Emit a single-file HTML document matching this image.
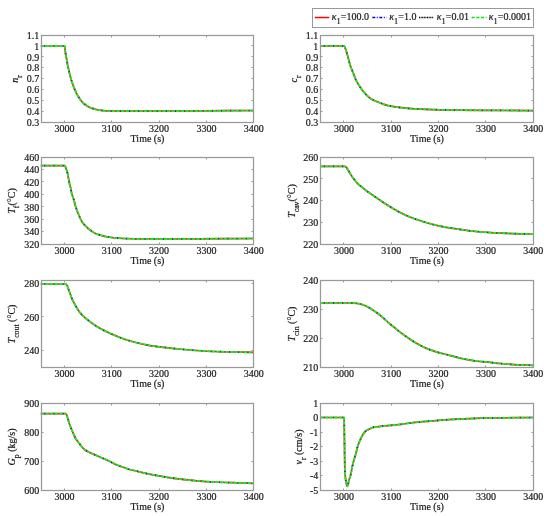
<!DOCTYPE html>
<html><head><meta charset="utf-8"><title>Simulation results</title>
<style>html,body{margin:0;padding:0;background:#fff;width:550px;height:516px;overflow:hidden}svg{display:block}text{stroke:#1a1a1a;stroke-width:0.2px}</style>
</head><body>
<svg width="550" height="516" viewBox="0 0 550 516" font-family='"Liberation Serif", "Times New Roman", serif' font-size="10">
<rect width="550" height="516" fill="#fff"/>
<g fill="none"><path d="M40.80 46.00C48.77 46.00 56.73 46.00 64.70 46.00C64.77 46.00 64.83 47.22 64.90 47.80C65.13 49.83 65.37 52.07 65.60 53.60C65.97 56.00 66.33 57.36 66.70 59.40C67.03 61.26 67.37 63.61 67.70 65.30C68.13 67.49 68.57 69.10 69.00 71.00C69.37 72.60 69.73 74.38 70.10 75.80C70.67 77.99 71.23 79.86 71.80 81.60C72.50 83.74 73.20 85.65 73.90 87.40C74.77 89.57 75.63 91.63 76.50 93.30C77.67 95.55 78.83 97.37 80.00 99.10C80.53 99.89 81.07 100.70 81.60 101.30C82.83 102.70 84.07 103.80 85.30 104.70C86.50 105.58 87.70 106.31 88.90 106.90C90.10 107.49 91.30 107.98 92.50 108.40C93.73 108.83 94.97 109.21 96.20 109.50C97.40 109.78 98.60 110.04 99.80 110.20C102.23 110.53 104.67 110.76 107.10 110.90C109.53 111.04 111.97 111.20 114.40 111.20C121.27 111.20 128.13 111.20 135.00 111.20C156.67 111.20 178.33 111.02 200.00 110.90C217.93 110.80 235.87 110.66 253.80 110.50" stroke="#e81818" stroke-width="1.7"/><path d="M40.80 46.00C48.77 46.00 56.73 46.00 64.70 46.00C64.77 46.00 64.83 47.22 64.90 47.80C65.13 49.83 65.37 52.07 65.60 53.60C65.97 56.00 66.33 57.36 66.70 59.40C67.03 61.26 67.37 63.61 67.70 65.30C68.13 67.49 68.57 69.10 69.00 71.00C69.37 72.60 69.73 74.38 70.10 75.80C70.67 77.99 71.23 79.86 71.80 81.60C72.50 83.74 73.20 85.65 73.90 87.40C74.77 89.57 75.63 91.63 76.50 93.30C77.67 95.55 78.83 97.37 80.00 99.10C80.53 99.89 81.07 100.70 81.60 101.30C82.83 102.70 84.07 103.80 85.30 104.70C86.50 105.58 87.70 106.31 88.90 106.90C90.10 107.49 91.30 107.98 92.50 108.40C93.73 108.83 94.97 109.21 96.20 109.50C97.40 109.78 98.60 110.04 99.80 110.20C102.23 110.53 104.67 110.76 107.10 110.90C109.53 111.04 111.97 111.20 114.40 111.20C121.27 111.20 128.13 111.20 135.00 111.20C156.67 111.20 178.33 111.02 200.00 110.90C217.93 110.80 235.87 110.66 253.80 110.50" stroke="#1828e8" stroke-width="1.7" stroke-dasharray="1.2 8" stroke-dashoffset="-3.4"/><path d="M40.80 46.00C48.77 46.00 56.73 46.00 64.70 46.00C64.77 46.00 64.83 47.22 64.90 47.80C65.13 49.83 65.37 52.07 65.60 53.60C65.97 56.00 66.33 57.36 66.70 59.40C67.03 61.26 67.37 63.61 67.70 65.30C68.13 67.49 68.57 69.10 69.00 71.00C69.37 72.60 69.73 74.38 70.10 75.80C70.67 77.99 71.23 79.86 71.80 81.60C72.50 83.74 73.20 85.65 73.90 87.40C74.77 89.57 75.63 91.63 76.50 93.30C77.67 95.55 78.83 97.37 80.00 99.10C80.53 99.89 81.07 100.70 81.60 101.30C82.83 102.70 84.07 103.80 85.30 104.70C86.50 105.58 87.70 106.31 88.90 106.90C90.10 107.49 91.30 107.98 92.50 108.40C93.73 108.83 94.97 109.21 96.20 109.50C97.40 109.78 98.60 110.04 99.80 110.20C102.23 110.53 104.67 110.76 107.10 110.90C109.53 111.04 111.97 111.20 114.40 111.20C121.27 111.20 128.13 111.20 135.00 111.20C156.67 111.20 178.33 111.02 200.00 110.90C217.93 110.80 235.87 110.66 253.80 110.50" stroke="#18f018" stroke-width="1.8" stroke-dasharray="3.4 1.2"/></g>
<rect x="41.5" y="35.5" width="212.0" height="87.0" fill="none" stroke="#999999" stroke-width="1.25"/>
<path d="M64.5 122.5v-2M64.5 35.5v2M111.5 122.5v-2M111.5 35.5v2M159.5 122.5v-2M159.5 35.5v2M206.5 122.5v-2M206.5 35.5v2M41.5 111.5h2M253.5 111.5h-2M41.5 100.5h2M253.5 100.5h-2M41.5 89.5h2M253.5 89.5h-2M41.5 78.5h2M253.5 78.5h-2M41.5 67.5h2M253.5 67.5h-2M41.5 56.5h2M253.5 56.5h-2M41.5 45.5h2M253.5 45.5h-2" stroke="#999999" stroke-width="1" fill="none"/>
<g fill="#1a1a1a"><text x="64.5" y="131.8" text-anchor="middle">3000</text><text x="111.8" y="131.8" text-anchor="middle">3100</text><text x="159.1" y="131.8" text-anchor="middle">3200</text><text x="206.5" y="131.8" text-anchor="middle">3300</text><text x="253.8" y="131.8" text-anchor="middle">3400</text><text x="39.3" y="125.8" text-anchor="end">0.3</text><text x="39.3" y="114.9" text-anchor="end">0.4</text><text x="39.3" y="104.1" text-anchor="end">0.5</text><text x="39.3" y="93.2" text-anchor="end">0.6</text><text x="39.3" y="82.3" text-anchor="end">0.7</text><text x="39.3" y="71.4" text-anchor="end">0.8</text><text x="39.3" y="60.5" text-anchor="end">0.9</text><text x="39.3" y="49.7" text-anchor="end">1</text><text x="39.3" y="38.8" text-anchor="end">1.1</text></g>
<text x="147.5" y="141.7" text-anchor="middle" fill="#1a1a1a">Time (s)</text>
<text transform="translate(18.0 79.0) rotate(-90)" text-anchor="middle" fill="#1a1a1a"><tspan font-style="italic">n</tspan><tspan font-size="7.8" dy="4.2">r</tspan></text>
<g fill="none"><path d="M320.30 45.80C328.23 45.80 336.17 45.80 344.10 45.80C344.43 45.80 344.77 47.01 345.10 47.80C345.73 49.30 346.37 51.50 347.00 53.60C347.53 55.37 348.07 57.45 348.60 59.40C349.13 61.35 349.67 63.66 350.20 65.30C350.53 66.33 350.87 67.13 351.20 68.00C351.97 70.01 352.73 71.87 353.50 73.80C354.27 75.73 355.03 77.97 355.80 79.60C356.87 81.87 357.93 83.68 359.00 85.40C360.37 87.60 361.73 89.67 363.10 91.30C365.23 93.85 367.37 96.11 369.50 97.70C371.03 98.85 372.57 99.76 374.10 100.50C375.60 101.22 377.10 101.71 378.60 102.30C380.13 102.91 381.67 103.57 383.20 104.10C384.70 104.62 386.20 105.14 387.70 105.50C389.23 105.87 390.77 106.14 392.30 106.40C395.33 106.91 398.37 107.35 401.40 107.70C404.43 108.05 407.47 108.40 410.50 108.60C418.07 109.09 425.63 109.37 433.20 109.60C440.47 109.82 447.73 110.01 455.00 110.10C468.00 110.26 481.00 110.32 494.00 110.40C507.10 110.48 520.20 110.55 533.30 110.60" stroke="#e81818" stroke-width="1.7"/><path d="M320.30 45.80C328.23 45.80 336.17 45.80 344.10 45.80C344.43 45.80 344.77 47.01 345.10 47.80C345.73 49.30 346.37 51.50 347.00 53.60C347.53 55.37 348.07 57.45 348.60 59.40C349.13 61.35 349.67 63.66 350.20 65.30C350.53 66.33 350.87 67.13 351.20 68.00C351.97 70.01 352.73 71.87 353.50 73.80C354.27 75.73 355.03 77.97 355.80 79.60C356.87 81.87 357.93 83.68 359.00 85.40C360.37 87.60 361.73 89.67 363.10 91.30C365.23 93.85 367.37 96.11 369.50 97.70C371.03 98.85 372.57 99.76 374.10 100.50C375.60 101.22 377.10 101.71 378.60 102.30C380.13 102.91 381.67 103.57 383.20 104.10C384.70 104.62 386.20 105.14 387.70 105.50C389.23 105.87 390.77 106.14 392.30 106.40C395.33 106.91 398.37 107.35 401.40 107.70C404.43 108.05 407.47 108.40 410.50 108.60C418.07 109.09 425.63 109.37 433.20 109.60C440.47 109.82 447.73 110.01 455.00 110.10C468.00 110.26 481.00 110.32 494.00 110.40C507.10 110.48 520.20 110.55 533.30 110.60" stroke="#1828e8" stroke-width="1.7" stroke-dasharray="1.2 8" stroke-dashoffset="-3.4"/><path d="M320.30 45.80C328.23 45.80 336.17 45.80 344.10 45.80C344.43 45.80 344.77 47.01 345.10 47.80C345.73 49.30 346.37 51.50 347.00 53.60C347.53 55.37 348.07 57.45 348.60 59.40C349.13 61.35 349.67 63.66 350.20 65.30C350.53 66.33 350.87 67.13 351.20 68.00C351.97 70.01 352.73 71.87 353.50 73.80C354.27 75.73 355.03 77.97 355.80 79.60C356.87 81.87 357.93 83.68 359.00 85.40C360.37 87.60 361.73 89.67 363.10 91.30C365.23 93.85 367.37 96.11 369.50 97.70C371.03 98.85 372.57 99.76 374.10 100.50C375.60 101.22 377.10 101.71 378.60 102.30C380.13 102.91 381.67 103.57 383.20 104.10C384.70 104.62 386.20 105.14 387.70 105.50C389.23 105.87 390.77 106.14 392.30 106.40C395.33 106.91 398.37 107.35 401.40 107.70C404.43 108.05 407.47 108.40 410.50 108.60C418.07 109.09 425.63 109.37 433.20 109.60C440.47 109.82 447.73 110.01 455.00 110.10C468.00 110.26 481.00 110.32 494.00 110.40C507.10 110.48 520.20 110.55 533.30 110.60" stroke="#18f018" stroke-width="1.8" stroke-dasharray="3.4 1.2"/></g>
<rect x="320.5" y="35.5" width="213.0" height="87.0" fill="none" stroke="#999999" stroke-width="1.25"/>
<path d="M343.5 122.5v-2M343.5 35.5v2M391.5 122.5v-2M391.5 35.5v2M438.5 122.5v-2M438.5 35.5v2M485.5 122.5v-2M485.5 35.5v2M320.5 111.5h2M533.5 111.5h-2M320.5 100.5h2M533.5 100.5h-2M320.5 89.5h2M533.5 89.5h-2M320.5 78.5h2M533.5 78.5h-2M320.5 67.5h2M533.5 67.5h-2M320.5 56.5h2M533.5 56.5h-2M320.5 45.5h2M533.5 45.5h-2" stroke="#999999" stroke-width="1" fill="none"/>
<g fill="#1a1a1a"><text x="344.0" y="131.8" text-anchor="middle">3000</text><text x="391.3" y="131.8" text-anchor="middle">3100</text><text x="438.6" y="131.8" text-anchor="middle">3200</text><text x="486.0" y="131.8" text-anchor="middle">3300</text><text x="533.3" y="131.8" text-anchor="middle">3400</text><text x="318.3" y="125.8" text-anchor="end">0.3</text><text x="318.3" y="114.9" text-anchor="end">0.4</text><text x="318.3" y="104.1" text-anchor="end">0.5</text><text x="318.3" y="93.2" text-anchor="end">0.6</text><text x="318.3" y="82.3" text-anchor="end">0.7</text><text x="318.3" y="71.4" text-anchor="end">0.8</text><text x="318.3" y="60.5" text-anchor="end">0.9</text><text x="318.3" y="49.7" text-anchor="end">1</text><text x="318.3" y="38.8" text-anchor="end">1.1</text></g>
<text x="427.0" y="141.7" text-anchor="middle" fill="#1a1a1a">Time (s)</text>
<text transform="translate(297.2 79.0) rotate(-90)" text-anchor="middle" fill="#1a1a1a"><tspan font-style="italic">c</tspan><tspan font-size="7.8" dy="4.2">r</tspan></text>
<g fill="none"><path d="M40.80 165.60C48.83 165.60 56.87 165.60 64.90 165.60C65.20 165.60 65.50 166.98 65.80 167.80C66.40 169.44 67.00 171.15 67.60 173.60C67.97 175.10 68.33 177.53 68.70 179.40C69.10 181.44 69.50 183.72 69.90 185.30C70.17 186.35 70.43 186.92 70.70 188.00C71.07 189.49 71.43 192.39 71.80 193.80C72.47 196.37 73.13 197.38 73.80 199.60C74.30 201.27 74.80 203.72 75.30 205.40C75.97 207.65 76.63 209.60 77.30 211.30C79.03 215.72 80.77 220.01 82.50 222.50C84.03 224.70 85.57 226.09 87.10 227.50C88.60 228.88 90.10 230.08 91.60 231.10C93.13 232.14 94.67 233.18 96.20 233.80C97.70 234.41 99.20 234.76 100.70 235.20C102.23 235.65 103.77 236.18 105.30 236.50C108.33 237.12 111.37 237.62 114.40 237.90C117.43 238.18 120.47 238.39 123.50 238.50C129.00 238.70 134.50 238.85 140.00 238.90C146.67 238.96 153.33 239.00 160.00 239.00C173.33 239.00 186.67 238.87 200.00 238.80C217.93 238.71 235.87 238.61 253.80 238.50" stroke="#e81818" stroke-width="1.7"/><path d="M40.80 165.60C48.83 165.60 56.87 165.60 64.90 165.60C65.20 165.60 65.50 166.98 65.80 167.80C66.40 169.44 67.00 171.15 67.60 173.60C67.97 175.10 68.33 177.53 68.70 179.40C69.10 181.44 69.50 183.72 69.90 185.30C70.17 186.35 70.43 186.92 70.70 188.00C71.07 189.49 71.43 192.39 71.80 193.80C72.47 196.37 73.13 197.38 73.80 199.60C74.30 201.27 74.80 203.72 75.30 205.40C75.97 207.65 76.63 209.60 77.30 211.30C79.03 215.72 80.77 220.01 82.50 222.50C84.03 224.70 85.57 226.09 87.10 227.50C88.60 228.88 90.10 230.08 91.60 231.10C93.13 232.14 94.67 233.18 96.20 233.80C97.70 234.41 99.20 234.76 100.70 235.20C102.23 235.65 103.77 236.18 105.30 236.50C108.33 237.12 111.37 237.62 114.40 237.90C117.43 238.18 120.47 238.39 123.50 238.50C129.00 238.70 134.50 238.85 140.00 238.90C146.67 238.96 153.33 239.00 160.00 239.00C173.33 239.00 186.67 238.87 200.00 238.80C217.93 238.71 235.87 238.61 253.80 238.50" stroke="#1828e8" stroke-width="1.7" stroke-dasharray="1.2 8" stroke-dashoffset="-3.4"/><path d="M40.80 165.60C48.83 165.60 56.87 165.60 64.90 165.60C65.20 165.60 65.50 166.98 65.80 167.80C66.40 169.44 67.00 171.15 67.60 173.60C67.97 175.10 68.33 177.53 68.70 179.40C69.10 181.44 69.50 183.72 69.90 185.30C70.17 186.35 70.43 186.92 70.70 188.00C71.07 189.49 71.43 192.39 71.80 193.80C72.47 196.37 73.13 197.38 73.80 199.60C74.30 201.27 74.80 203.72 75.30 205.40C75.97 207.65 76.63 209.60 77.30 211.30C79.03 215.72 80.77 220.01 82.50 222.50C84.03 224.70 85.57 226.09 87.10 227.50C88.60 228.88 90.10 230.08 91.60 231.10C93.13 232.14 94.67 233.18 96.20 233.80C97.70 234.41 99.20 234.76 100.70 235.20C102.23 235.65 103.77 236.18 105.30 236.50C108.33 237.12 111.37 237.62 114.40 237.90C117.43 238.18 120.47 238.39 123.50 238.50C129.00 238.70 134.50 238.85 140.00 238.90C146.67 238.96 153.33 239.00 160.00 239.00C173.33 239.00 186.67 238.87 200.00 238.80C217.93 238.71 235.87 238.61 253.80 238.50" stroke="#18f018" stroke-width="1.8" stroke-dasharray="3.4 1.2"/></g>
<rect x="41.5" y="157.5" width="212.0" height="87.0" fill="none" stroke="#999999" stroke-width="1.25"/>
<path d="M64.5 244.5v-2M64.5 157.5v2M111.5 244.5v-2M111.5 157.5v2M159.5 244.5v-2M159.5 157.5v2M206.5 244.5v-2M206.5 157.5v2M41.5 231.5h2M253.5 231.5h-2M41.5 219.5h2M253.5 219.5h-2M41.5 206.5h2M253.5 206.5h-2M41.5 194.5h2M253.5 194.5h-2M41.5 181.5h2M253.5 181.5h-2M41.5 169.5h2M253.5 169.5h-2" stroke="#999999" stroke-width="1" fill="none"/>
<g fill="#1a1a1a"><text x="64.5" y="253.8" text-anchor="middle">3000</text><text x="111.8" y="253.8" text-anchor="middle">3100</text><text x="159.1" y="253.8" text-anchor="middle">3200</text><text x="206.5" y="253.8" text-anchor="middle">3300</text><text x="253.8" y="253.8" text-anchor="middle">3400</text><text x="39.3" y="247.8" text-anchor="end">320</text><text x="39.3" y="235.4" text-anchor="end">340</text><text x="39.3" y="222.9" text-anchor="end">360</text><text x="39.3" y="210.5" text-anchor="end">380</text><text x="39.3" y="198.1" text-anchor="end">400</text><text x="39.3" y="185.7" text-anchor="end">420</text><text x="39.3" y="173.2" text-anchor="end">440</text><text x="39.3" y="160.8" text-anchor="end">460</text></g>
<text x="147.5" y="263.7" text-anchor="middle" fill="#1a1a1a">Time (s)</text>
<text transform="translate(15.0 201.0) rotate(-90)" text-anchor="middle" fill="#1a1a1a"><tspan font-style="italic">T</tspan><tspan font-size="7.8" dy="4.2">f</tspan><tspan dy="-4.2">(°C)</tspan></text>
<g fill="none"><path d="M320.30 166.30C328.47 166.30 336.63 166.30 344.80 166.30C345.13 166.30 345.47 166.57 345.80 166.80C346.57 167.33 347.33 168.91 348.10 170.10C348.87 171.29 349.63 172.78 350.40 174.00C351.43 175.64 352.47 177.22 353.50 178.60C354.80 180.34 356.10 181.98 357.40 183.30C358.70 184.62 360.00 185.60 361.30 186.70C362.57 187.77 363.83 188.83 365.10 189.80C366.40 190.79 367.70 191.68 369.00 192.60C370.30 193.52 371.60 194.40 372.90 195.30C374.20 196.20 375.50 197.11 376.80 198.00C380.43 200.48 384.07 203.04 387.70 205.30C391.97 207.95 396.23 210.57 400.50 212.70C404.73 214.82 408.97 216.70 413.20 218.30C417.43 219.90 421.67 221.27 425.90 222.50C430.13 223.73 434.37 224.91 438.60 225.80C445.13 227.18 451.67 228.25 458.20 229.20C464.27 230.09 470.33 230.92 476.40 231.50C482.43 232.08 488.47 232.59 494.50 232.90C500.57 233.21 506.63 233.44 512.70 233.60C519.57 233.78 526.43 233.94 533.30 234.00" stroke="#e81818" stroke-width="1.7"/><path d="M320.30 166.30C328.47 166.30 336.63 166.30 344.80 166.30C345.13 166.30 345.47 166.57 345.80 166.80C346.57 167.33 347.33 168.91 348.10 170.10C348.87 171.29 349.63 172.78 350.40 174.00C351.43 175.64 352.47 177.22 353.50 178.60C354.80 180.34 356.10 181.98 357.40 183.30C358.70 184.62 360.00 185.60 361.30 186.70C362.57 187.77 363.83 188.83 365.10 189.80C366.40 190.79 367.70 191.68 369.00 192.60C370.30 193.52 371.60 194.40 372.90 195.30C374.20 196.20 375.50 197.11 376.80 198.00C380.43 200.48 384.07 203.04 387.70 205.30C391.97 207.95 396.23 210.57 400.50 212.70C404.73 214.82 408.97 216.70 413.20 218.30C417.43 219.90 421.67 221.27 425.90 222.50C430.13 223.73 434.37 224.91 438.60 225.80C445.13 227.18 451.67 228.25 458.20 229.20C464.27 230.09 470.33 230.92 476.40 231.50C482.43 232.08 488.47 232.59 494.50 232.90C500.57 233.21 506.63 233.44 512.70 233.60C519.57 233.78 526.43 233.94 533.30 234.00" stroke="#1828e8" stroke-width="1.7" stroke-dasharray="1.2 8" stroke-dashoffset="-3.4"/><path d="M320.30 166.30C328.47 166.30 336.63 166.30 344.80 166.30C345.13 166.30 345.47 166.57 345.80 166.80C346.57 167.33 347.33 168.91 348.10 170.10C348.87 171.29 349.63 172.78 350.40 174.00C351.43 175.64 352.47 177.22 353.50 178.60C354.80 180.34 356.10 181.98 357.40 183.30C358.70 184.62 360.00 185.60 361.30 186.70C362.57 187.77 363.83 188.83 365.10 189.80C366.40 190.79 367.70 191.68 369.00 192.60C370.30 193.52 371.60 194.40 372.90 195.30C374.20 196.20 375.50 197.11 376.80 198.00C380.43 200.48 384.07 203.04 387.70 205.30C391.97 207.95 396.23 210.57 400.50 212.70C404.73 214.82 408.97 216.70 413.20 218.30C417.43 219.90 421.67 221.27 425.90 222.50C430.13 223.73 434.37 224.91 438.60 225.80C445.13 227.18 451.67 228.25 458.20 229.20C464.27 230.09 470.33 230.92 476.40 231.50C482.43 232.08 488.47 232.59 494.50 232.90C500.57 233.21 506.63 233.44 512.70 233.60C519.57 233.78 526.43 233.94 533.30 234.00" stroke="#18f018" stroke-width="1.8" stroke-dasharray="3.4 1.2"/></g>
<rect x="320.5" y="157.5" width="213.0" height="87.0" fill="none" stroke="#999999" stroke-width="1.25"/>
<path d="M343.5 244.5v-2M343.5 157.5v2M391.5 244.5v-2M391.5 157.5v2M438.5 244.5v-2M438.5 157.5v2M485.5 244.5v-2M485.5 157.5v2M320.5 222.5h2M533.5 222.5h-2M320.5 200.5h2M533.5 200.5h-2M320.5 178.5h2M533.5 178.5h-2" stroke="#999999" stroke-width="1" fill="none"/>
<g fill="#1a1a1a"><text x="344.0" y="253.8" text-anchor="middle">3000</text><text x="391.3" y="253.8" text-anchor="middle">3100</text><text x="438.6" y="253.8" text-anchor="middle">3200</text><text x="486.0" y="253.8" text-anchor="middle">3300</text><text x="533.3" y="253.8" text-anchor="middle">3400</text><text x="318.3" y="247.8" text-anchor="end">220</text><text x="318.3" y="226.1" text-anchor="end">230</text><text x="318.3" y="204.3" text-anchor="end">240</text><text x="318.3" y="182.6" text-anchor="end">250</text><text x="318.3" y="160.8" text-anchor="end">260</text></g>
<text x="427.0" y="263.7" text-anchor="middle" fill="#1a1a1a">Time (s)</text>
<text transform="translate(294.5 201.0) rotate(-90)" text-anchor="middle" fill="#1a1a1a"><tspan font-style="italic">T</tspan><tspan font-size="7.8" dy="4.2">cav</tspan><tspan dy="-4.2">(°C)</tspan></text>
<g fill="none"><path d="M40.80 284.00C49.13 284.00 57.47 284.00 65.80 284.00C66.20 284.00 66.60 284.76 67.00 285.40C67.50 286.19 68.00 287.98 68.50 289.30C69.03 290.71 69.57 292.14 70.10 293.60C70.60 294.97 71.10 296.58 71.60 297.80C72.27 299.43 72.93 300.78 73.60 302.10C74.23 303.36 74.87 304.48 75.50 305.60C76.27 306.96 77.03 308.32 77.80 309.50C78.60 310.74 79.40 311.96 80.20 312.90C81.23 314.12 82.27 315.01 83.30 316.00C84.43 317.08 85.57 318.17 86.70 319.10C90.37 322.11 94.03 324.79 97.70 327.00C101.97 329.57 106.23 331.67 110.50 333.60C114.73 335.51 118.97 337.25 123.20 338.70C127.43 340.15 131.67 341.43 135.90 342.50C140.13 343.57 144.37 344.58 148.60 345.30C153.77 346.17 158.93 346.76 164.10 347.40C168.80 347.98 173.50 348.55 178.20 349.00C184.27 349.58 190.33 350.10 196.40 350.50C202.43 350.90 208.47 351.28 214.50 351.50C220.57 351.72 226.63 351.86 232.70 352.00C239.73 352.16 246.77 352.30 253.80 352.40" stroke="#e81818" stroke-width="1.7"/><path d="M40.80 284.00C49.13 284.00 57.47 284.00 65.80 284.00C66.20 284.00 66.60 284.76 67.00 285.40C67.50 286.19 68.00 287.98 68.50 289.30C69.03 290.71 69.57 292.14 70.10 293.60C70.60 294.97 71.10 296.58 71.60 297.80C72.27 299.43 72.93 300.78 73.60 302.10C74.23 303.36 74.87 304.48 75.50 305.60C76.27 306.96 77.03 308.32 77.80 309.50C78.60 310.74 79.40 311.96 80.20 312.90C81.23 314.12 82.27 315.01 83.30 316.00C84.43 317.08 85.57 318.17 86.70 319.10C90.37 322.11 94.03 324.79 97.70 327.00C101.97 329.57 106.23 331.67 110.50 333.60C114.73 335.51 118.97 337.25 123.20 338.70C127.43 340.15 131.67 341.43 135.90 342.50C140.13 343.57 144.37 344.58 148.60 345.30C153.77 346.17 158.93 346.76 164.10 347.40C168.80 347.98 173.50 348.55 178.20 349.00C184.27 349.58 190.33 350.10 196.40 350.50C202.43 350.90 208.47 351.28 214.50 351.50C220.57 351.72 226.63 351.86 232.70 352.00C239.73 352.16 246.77 352.30 253.80 352.40" stroke="#1828e8" stroke-width="1.7" stroke-dasharray="1.2 8" stroke-dashoffset="-3.4"/><path d="M40.80 284.00C49.13 284.00 57.47 284.00 65.80 284.00C66.20 284.00 66.60 284.76 67.00 285.40C67.50 286.19 68.00 287.98 68.50 289.30C69.03 290.71 69.57 292.14 70.10 293.60C70.60 294.97 71.10 296.58 71.60 297.80C72.27 299.43 72.93 300.78 73.60 302.10C74.23 303.36 74.87 304.48 75.50 305.60C76.27 306.96 77.03 308.32 77.80 309.50C78.60 310.74 79.40 311.96 80.20 312.90C81.23 314.12 82.27 315.01 83.30 316.00C84.43 317.08 85.57 318.17 86.70 319.10C90.37 322.11 94.03 324.79 97.70 327.00C101.97 329.57 106.23 331.67 110.50 333.60C114.73 335.51 118.97 337.25 123.20 338.70C127.43 340.15 131.67 341.43 135.90 342.50C140.13 343.57 144.37 344.58 148.60 345.30C153.77 346.17 158.93 346.76 164.10 347.40C168.80 347.98 173.50 348.55 178.20 349.00C184.27 349.58 190.33 350.10 196.40 350.50C202.43 350.90 208.47 351.28 214.50 351.50C220.57 351.72 226.63 351.86 232.70 352.00C239.73 352.16 246.77 352.30 253.80 352.40" stroke="#18f018" stroke-width="1.8" stroke-dasharray="3.4 1.2"/></g>
<rect x="41.5" y="280.5" width="212.0" height="87.0" fill="none" stroke="#999999" stroke-width="1.25"/>
<path d="M64.5 367.5v-2M64.5 280.5v2M111.5 367.5v-2M111.5 280.5v2M159.5 367.5v-2M159.5 280.5v2M206.5 367.5v-2M206.5 280.5v2M41.5 350.5h2M253.5 350.5h-2M41.5 316.5h2M253.5 316.5h-2M41.5 283.5h2M253.5 283.5h-2" stroke="#999999" stroke-width="1" fill="none"/>
<g fill="#1a1a1a"><text x="64.5" y="376.8" text-anchor="middle">3000</text><text x="111.8" y="376.8" text-anchor="middle">3100</text><text x="159.1" y="376.8" text-anchor="middle">3200</text><text x="206.5" y="376.8" text-anchor="middle">3300</text><text x="253.8" y="376.8" text-anchor="middle">3400</text><text x="39.3" y="354.1" text-anchor="end">240</text><text x="39.3" y="320.6" text-anchor="end">260</text><text x="39.3" y="287.1" text-anchor="end">280</text></g>
<text x="147.5" y="386.7" text-anchor="middle" fill="#1a1a1a">Time (s)</text>
<text transform="translate(14.6 324.0) rotate(-90)" text-anchor="middle" fill="#1a1a1a"><tspan font-style="italic">T</tspan><tspan font-size="7.8" dy="4.2">cout</tspan><tspan dy="-4.2"> (°C)</tspan></text>
<g fill="none"><path d="M320.30 302.90C330.67 302.90 341.03 302.90 351.40 302.90C353.50 302.90 355.60 303.21 357.70 303.50C359.83 303.80 361.97 304.46 364.10 305.20C366.23 305.94 368.37 307.16 370.50 308.40C372.60 309.62 374.70 311.24 376.80 312.80C378.93 314.39 381.07 316.09 383.20 317.90C385.30 319.68 387.40 321.82 389.50 323.60C391.63 325.41 393.77 326.95 395.90 328.70C396.97 329.58 398.03 330.56 399.10 331.40C402.13 333.80 405.17 335.94 408.20 338.00C411.23 340.06 414.27 342.09 417.30 343.80C420.33 345.51 423.37 347.14 426.40 348.40C429.43 349.66 432.47 350.67 435.50 351.60C439.43 352.81 443.37 353.78 447.30 354.80C449.70 355.42 452.10 355.99 454.50 356.60C456.93 357.22 459.37 357.96 461.80 358.50C464.23 359.04 466.67 359.49 469.10 359.90C471.53 360.31 473.97 360.70 476.40 361.00C481.00 361.57 485.60 361.92 490.20 362.40C493.60 362.76 497.00 363.19 500.40 363.50C503.77 363.81 507.13 364.07 510.50 364.30C513.90 364.53 517.30 364.76 520.70 364.90C524.90 365.08 529.10 365.23 533.30 365.30" stroke="#e81818" stroke-width="1.7"/><path d="M320.30 302.90C330.67 302.90 341.03 302.90 351.40 302.90C353.50 302.90 355.60 303.21 357.70 303.50C359.83 303.80 361.97 304.46 364.10 305.20C366.23 305.94 368.37 307.16 370.50 308.40C372.60 309.62 374.70 311.24 376.80 312.80C378.93 314.39 381.07 316.09 383.20 317.90C385.30 319.68 387.40 321.82 389.50 323.60C391.63 325.41 393.77 326.95 395.90 328.70C396.97 329.58 398.03 330.56 399.10 331.40C402.13 333.80 405.17 335.94 408.20 338.00C411.23 340.06 414.27 342.09 417.30 343.80C420.33 345.51 423.37 347.14 426.40 348.40C429.43 349.66 432.47 350.67 435.50 351.60C439.43 352.81 443.37 353.78 447.30 354.80C449.70 355.42 452.10 355.99 454.50 356.60C456.93 357.22 459.37 357.96 461.80 358.50C464.23 359.04 466.67 359.49 469.10 359.90C471.53 360.31 473.97 360.70 476.40 361.00C481.00 361.57 485.60 361.92 490.20 362.40C493.60 362.76 497.00 363.19 500.40 363.50C503.77 363.81 507.13 364.07 510.50 364.30C513.90 364.53 517.30 364.76 520.70 364.90C524.90 365.08 529.10 365.23 533.30 365.30" stroke="#1828e8" stroke-width="1.7" stroke-dasharray="1.2 8" stroke-dashoffset="-3.4"/><path d="M320.30 302.90C330.67 302.90 341.03 302.90 351.40 302.90C353.50 302.90 355.60 303.21 357.70 303.50C359.83 303.80 361.97 304.46 364.10 305.20C366.23 305.94 368.37 307.16 370.50 308.40C372.60 309.62 374.70 311.24 376.80 312.80C378.93 314.39 381.07 316.09 383.20 317.90C385.30 319.68 387.40 321.82 389.50 323.60C391.63 325.41 393.77 326.95 395.90 328.70C396.97 329.58 398.03 330.56 399.10 331.40C402.13 333.80 405.17 335.94 408.20 338.00C411.23 340.06 414.27 342.09 417.30 343.80C420.33 345.51 423.37 347.14 426.40 348.40C429.43 349.66 432.47 350.67 435.50 351.60C439.43 352.81 443.37 353.78 447.30 354.80C449.70 355.42 452.10 355.99 454.50 356.60C456.93 357.22 459.37 357.96 461.80 358.50C464.23 359.04 466.67 359.49 469.10 359.90C471.53 360.31 473.97 360.70 476.40 361.00C481.00 361.57 485.60 361.92 490.20 362.40C493.60 362.76 497.00 363.19 500.40 363.50C503.77 363.81 507.13 364.07 510.50 364.30C513.90 364.53 517.30 364.76 520.70 364.90C524.90 365.08 529.10 365.23 533.30 365.30" stroke="#18f018" stroke-width="1.8" stroke-dasharray="3.4 1.2"/></g>
<rect x="320.5" y="280.5" width="213.0" height="87.0" fill="none" stroke="#999999" stroke-width="1.25"/>
<path d="M343.5 367.5v-2M343.5 280.5v2M391.5 367.5v-2M391.5 280.5v2M438.5 367.5v-2M438.5 280.5v2M485.5 367.5v-2M485.5 280.5v2M320.5 338.5h2M533.5 338.5h-2M320.5 309.5h2M533.5 309.5h-2" stroke="#999999" stroke-width="1" fill="none"/>
<g fill="#1a1a1a"><text x="344.0" y="376.8" text-anchor="middle">3000</text><text x="391.3" y="376.8" text-anchor="middle">3100</text><text x="438.6" y="376.8" text-anchor="middle">3200</text><text x="486.0" y="376.8" text-anchor="middle">3300</text><text x="533.3" y="376.8" text-anchor="middle">3400</text><text x="318.3" y="370.8" text-anchor="end">210</text><text x="318.3" y="341.8" text-anchor="end">220</text><text x="318.3" y="312.8" text-anchor="end">230</text><text x="318.3" y="283.8" text-anchor="end">240</text></g>
<text x="427.0" y="386.7" text-anchor="middle" fill="#1a1a1a">Time (s)</text>
<text transform="translate(294.5 324.0) rotate(-90)" text-anchor="middle" fill="#1a1a1a"><tspan font-style="italic">T</tspan><tspan font-size="7.8" dy="4.2">cin</tspan><tspan dy="-4.2"> (°C)</tspan></text>
<g fill="none"><path d="M40.80 413.60C49.13 413.60 57.47 413.60 65.80 413.60C66.20 413.60 66.60 414.84 67.00 415.80C67.37 416.68 67.73 418.37 68.10 419.60C68.50 420.94 68.90 422.30 69.30 423.50C69.77 424.90 70.23 426.22 70.70 427.40C71.27 428.83 71.83 429.98 72.40 431.30C72.93 432.54 73.47 433.92 74.00 435.10C74.63 436.50 75.27 437.97 75.90 439.00C76.60 440.14 77.30 440.91 78.00 441.80C80.13 444.52 82.27 447.88 84.40 449.50C86.50 451.09 88.60 451.97 90.70 453.00C92.83 454.04 94.97 454.87 97.10 455.80C99.23 456.73 101.37 457.64 103.50 458.60C105.60 459.54 107.70 460.49 109.80 461.50C111.93 462.52 114.07 463.80 116.20 464.70C118.30 465.59 120.40 466.26 122.50 467.00C124.63 467.76 126.77 468.58 128.90 469.20C131.03 469.82 133.17 470.26 135.30 470.80C137.40 471.33 139.50 471.91 141.60 472.40C143.73 472.90 145.87 473.36 148.00 473.80C151.20 474.47 154.40 475.13 157.60 475.70C164.47 476.91 171.33 478.05 178.20 478.90C184.27 479.65 190.33 480.31 196.40 480.80C202.43 481.29 208.47 481.71 214.50 482.00C220.57 482.30 226.63 482.50 232.70 482.70C239.73 482.93 246.77 483.14 253.80 483.30" stroke="#e81818" stroke-width="1.7"/><path d="M40.80 413.60C49.13 413.60 57.47 413.60 65.80 413.60C66.20 413.60 66.60 414.84 67.00 415.80C67.37 416.68 67.73 418.37 68.10 419.60C68.50 420.94 68.90 422.30 69.30 423.50C69.77 424.90 70.23 426.22 70.70 427.40C71.27 428.83 71.83 429.98 72.40 431.30C72.93 432.54 73.47 433.92 74.00 435.10C74.63 436.50 75.27 437.97 75.90 439.00C76.60 440.14 77.30 440.91 78.00 441.80C80.13 444.52 82.27 447.88 84.40 449.50C86.50 451.09 88.60 451.97 90.70 453.00C92.83 454.04 94.97 454.87 97.10 455.80C99.23 456.73 101.37 457.64 103.50 458.60C105.60 459.54 107.70 460.49 109.80 461.50C111.93 462.52 114.07 463.80 116.20 464.70C118.30 465.59 120.40 466.26 122.50 467.00C124.63 467.76 126.77 468.58 128.90 469.20C131.03 469.82 133.17 470.26 135.30 470.80C137.40 471.33 139.50 471.91 141.60 472.40C143.73 472.90 145.87 473.36 148.00 473.80C151.20 474.47 154.40 475.13 157.60 475.70C164.47 476.91 171.33 478.05 178.20 478.90C184.27 479.65 190.33 480.31 196.40 480.80C202.43 481.29 208.47 481.71 214.50 482.00C220.57 482.30 226.63 482.50 232.70 482.70C239.73 482.93 246.77 483.14 253.80 483.30" stroke="#1828e8" stroke-width="1.7" stroke-dasharray="1.2 8" stroke-dashoffset="-3.4"/><path d="M40.80 413.60C49.13 413.60 57.47 413.60 65.80 413.60C66.20 413.60 66.60 414.84 67.00 415.80C67.37 416.68 67.73 418.37 68.10 419.60C68.50 420.94 68.90 422.30 69.30 423.50C69.77 424.90 70.23 426.22 70.70 427.40C71.27 428.83 71.83 429.98 72.40 431.30C72.93 432.54 73.47 433.92 74.00 435.10C74.63 436.50 75.27 437.97 75.90 439.00C76.60 440.14 77.30 440.91 78.00 441.80C80.13 444.52 82.27 447.88 84.40 449.50C86.50 451.09 88.60 451.97 90.70 453.00C92.83 454.04 94.97 454.87 97.10 455.80C99.23 456.73 101.37 457.64 103.50 458.60C105.60 459.54 107.70 460.49 109.80 461.50C111.93 462.52 114.07 463.80 116.20 464.70C118.30 465.59 120.40 466.26 122.50 467.00C124.63 467.76 126.77 468.58 128.90 469.20C131.03 469.82 133.17 470.26 135.30 470.80C137.40 471.33 139.50 471.91 141.60 472.40C143.73 472.90 145.87 473.36 148.00 473.80C151.20 474.47 154.40 475.13 157.60 475.70C164.47 476.91 171.33 478.05 178.20 478.90C184.27 479.65 190.33 480.31 196.40 480.80C202.43 481.29 208.47 481.71 214.50 482.00C220.57 482.30 226.63 482.50 232.70 482.70C239.73 482.93 246.77 483.14 253.80 483.30" stroke="#18f018" stroke-width="1.8" stroke-dasharray="3.4 1.2"/></g>
<rect x="41.5" y="403.5" width="212.0" height="87.0" fill="none" stroke="#999999" stroke-width="1.25"/>
<path d="M64.5 490.5v-2M64.5 403.5v2M111.5 490.5v-2M111.5 403.5v2M159.5 490.5v-2M159.5 403.5v2M206.5 490.5v-2M206.5 403.5v2M41.5 461.5h2M253.5 461.5h-2M41.5 432.5h2M253.5 432.5h-2" stroke="#999999" stroke-width="1" fill="none"/>
<g fill="#1a1a1a"><text x="64.5" y="499.8" text-anchor="middle">3000</text><text x="111.8" y="499.8" text-anchor="middle">3100</text><text x="159.1" y="499.8" text-anchor="middle">3200</text><text x="206.5" y="499.8" text-anchor="middle">3300</text><text x="253.8" y="499.8" text-anchor="middle">3400</text><text x="39.3" y="493.8" text-anchor="end">600</text><text x="39.3" y="464.8" text-anchor="end">700</text><text x="39.3" y="435.8" text-anchor="end">800</text><text x="39.3" y="406.8" text-anchor="end">900</text></g>
<text x="147.5" y="509.7" text-anchor="middle" fill="#1a1a1a">Time (s)</text>
<text transform="translate(15.0 447.0) rotate(-90)" text-anchor="middle" fill="#1a1a1a"><tspan font-style="italic">G</tspan><tspan font-size="7.8" dy="4.2">p</tspan><tspan dy="-4.2"> (kg/s)</tspan></text>
<g fill="none"><path d="M320.30 417.50C328.23 417.50 336.17 417.50 344.10 417.50C344.17 417.50 344.23 425.45 344.30 430.00C344.37 434.55 344.43 440.00 344.50 445.00C344.57 450.00 344.63 455.88 344.70 460.00C344.77 464.12 344.83 469.07 344.90 470.50C345.20 476.93 345.50 478.82 345.80 480.60C346.30 483.56 346.80 486.30 347.30 486.30C347.83 486.30 348.37 482.42 348.90 480.60C349.53 478.44 350.17 476.96 350.80 474.40C351.30 472.38 351.80 468.83 352.30 466.60C352.97 463.63 353.63 461.29 354.30 458.90C354.83 456.99 355.37 455.44 355.90 453.50C356.53 451.20 357.17 447.97 357.80 446.00C358.83 442.79 359.87 440.54 360.90 438.30C361.57 436.86 362.23 435.37 362.90 434.40C364.07 432.70 365.23 431.28 366.40 430.50C367.43 429.81 368.47 429.47 369.50 429.00C370.77 428.43 372.03 427.68 373.30 427.40C375.13 426.99 376.97 426.83 378.80 426.60C382.60 426.13 386.40 425.78 390.20 425.40C393.27 425.09 396.33 424.84 399.40 424.50C404.60 423.92 409.80 422.95 415.00 422.40C421.20 421.74 427.40 421.27 433.60 420.80C441.50 420.20 449.40 419.61 457.30 419.20C465.17 418.79 473.03 418.39 480.90 418.20C488.80 418.01 496.70 417.90 504.60 417.80C514.17 417.68 523.73 417.57 533.30 417.50" stroke="#e81818" stroke-width="1.7"/><path d="M320.30 417.50C328.23 417.50 336.17 417.50 344.10 417.50C344.17 417.50 344.23 425.45 344.30 430.00C344.37 434.55 344.43 440.00 344.50 445.00C344.57 450.00 344.63 455.88 344.70 460.00C344.77 464.12 344.83 469.07 344.90 470.50C345.20 476.93 345.50 478.82 345.80 480.60C346.30 483.56 346.80 486.30 347.30 486.30C347.83 486.30 348.37 482.42 348.90 480.60C349.53 478.44 350.17 476.96 350.80 474.40C351.30 472.38 351.80 468.83 352.30 466.60C352.97 463.63 353.63 461.29 354.30 458.90C354.83 456.99 355.37 455.44 355.90 453.50C356.53 451.20 357.17 447.97 357.80 446.00C358.83 442.79 359.87 440.54 360.90 438.30C361.57 436.86 362.23 435.37 362.90 434.40C364.07 432.70 365.23 431.28 366.40 430.50C367.43 429.81 368.47 429.47 369.50 429.00C370.77 428.43 372.03 427.68 373.30 427.40C375.13 426.99 376.97 426.83 378.80 426.60C382.60 426.13 386.40 425.78 390.20 425.40C393.27 425.09 396.33 424.84 399.40 424.50C404.60 423.92 409.80 422.95 415.00 422.40C421.20 421.74 427.40 421.27 433.60 420.80C441.50 420.20 449.40 419.61 457.30 419.20C465.17 418.79 473.03 418.39 480.90 418.20C488.80 418.01 496.70 417.90 504.60 417.80C514.17 417.68 523.73 417.57 533.30 417.50" stroke="#1828e8" stroke-width="1.7" stroke-dasharray="1.2 8" stroke-dashoffset="-3.4"/><path d="M320.30 417.50C328.23 417.50 336.17 417.50 344.10 417.50C344.17 417.50 344.23 425.45 344.30 430.00C344.37 434.55 344.43 440.00 344.50 445.00C344.57 450.00 344.63 455.88 344.70 460.00C344.77 464.12 344.83 469.07 344.90 470.50C345.20 476.93 345.50 478.82 345.80 480.60C346.30 483.56 346.80 486.30 347.30 486.30C347.83 486.30 348.37 482.42 348.90 480.60C349.53 478.44 350.17 476.96 350.80 474.40C351.30 472.38 351.80 468.83 352.30 466.60C352.97 463.63 353.63 461.29 354.30 458.90C354.83 456.99 355.37 455.44 355.90 453.50C356.53 451.20 357.17 447.97 357.80 446.00C358.83 442.79 359.87 440.54 360.90 438.30C361.57 436.86 362.23 435.37 362.90 434.40C364.07 432.70 365.23 431.28 366.40 430.50C367.43 429.81 368.47 429.47 369.50 429.00C370.77 428.43 372.03 427.68 373.30 427.40C375.13 426.99 376.97 426.83 378.80 426.60C382.60 426.13 386.40 425.78 390.20 425.40C393.27 425.09 396.33 424.84 399.40 424.50C404.60 423.92 409.80 422.95 415.00 422.40C421.20 421.74 427.40 421.27 433.60 420.80C441.50 420.20 449.40 419.61 457.30 419.20C465.17 418.79 473.03 418.39 480.90 418.20C488.80 418.01 496.70 417.90 504.60 417.80C514.17 417.68 523.73 417.57 533.30 417.50" stroke="#18f018" stroke-width="1.8" stroke-dasharray="3.4 1.2"/></g>
<rect x="320.5" y="403.5" width="213.0" height="87.0" fill="none" stroke="#999999" stroke-width="1.25"/>
<path d="M343.5 490.5v-2M343.5 403.5v2M391.5 490.5v-2M391.5 403.5v2M438.5 490.5v-2M438.5 403.5v2M485.5 490.5v-2M485.5 403.5v2M320.5 475.5h2M533.5 475.5h-2M320.5 461.5h2M533.5 461.5h-2M320.5 446.5h2M533.5 446.5h-2M320.5 432.5h2M533.5 432.5h-2M320.5 417.5h2M533.5 417.5h-2" stroke="#999999" stroke-width="1" fill="none"/>
<g fill="#1a1a1a"><text x="344.0" y="499.8" text-anchor="middle">3000</text><text x="391.3" y="499.8" text-anchor="middle">3100</text><text x="438.6" y="499.8" text-anchor="middle">3200</text><text x="486.0" y="499.8" text-anchor="middle">3300</text><text x="533.3" y="499.8" text-anchor="middle">3400</text><text x="318.3" y="493.8" text-anchor="end">-5</text><text x="318.3" y="479.3" text-anchor="end">-4</text><text x="318.3" y="464.8" text-anchor="end">-3</text><text x="318.3" y="450.3" text-anchor="end">-2</text><text x="318.3" y="435.8" text-anchor="end">-1</text><text x="318.3" y="421.3" text-anchor="end">0</text><text x="318.3" y="406.8" text-anchor="end">1</text></g>
<text x="427.0" y="509.7" text-anchor="middle" fill="#1a1a1a">Time (s)</text>
<text transform="translate(302.0 447.0) rotate(-90)" text-anchor="middle" fill="#1a1a1a"><tspan font-style="italic">v</tspan><tspan font-size="7.8" dy="4.2">r</tspan><tspan dy="-4.2"> (cm/s)</tspan></text>
<rect x="312.5" y="8.5" width="221" height="19" fill="#fff" stroke="#999999" stroke-width="1"/>
<path d="M314.8 17.5H329.2" stroke="#ff0000" stroke-width="1.5"/>
<path d="M372.3 17.5H386.6" stroke="#0000ff" stroke-width="1.5" stroke-dasharray="3 1.5 1 1.5"/>
<path d="M419 17.5H433.6" stroke="#000" stroke-width="1.3" stroke-dasharray="1 0.6"/>
<path d="M471.6 17.5H486.6" stroke="#00ee00" stroke-width="1.6" stroke-dasharray="3.1 1.6"/>
<text x="331.8" y="19.6" fill="#1a1a1a"><tspan font-style="italic">κ</tspan><tspan font-size="8.3" dy="4.8">1</tspan><tspan dy="-4.8">=100.0</tspan></text>
<text x="389.3" y="19.6" fill="#1a1a1a"><tspan font-style="italic">κ</tspan><tspan font-size="8.3" dy="4.8">1</tspan><tspan dy="-4.8">=1.0</tspan></text>
<text x="436.8" y="19.6" fill="#1a1a1a"><tspan font-style="italic">κ</tspan><tspan font-size="8.3" dy="4.8">1</tspan><tspan dy="-4.8">=0.01</tspan></text>
<text x="488.8" y="19.6" fill="#1a1a1a"><tspan font-style="italic">κ</tspan><tspan font-size="8.3" dy="4.8">1</tspan><tspan dy="-4.8">=0.0001</tspan></text>
</svg>
</body></html>
